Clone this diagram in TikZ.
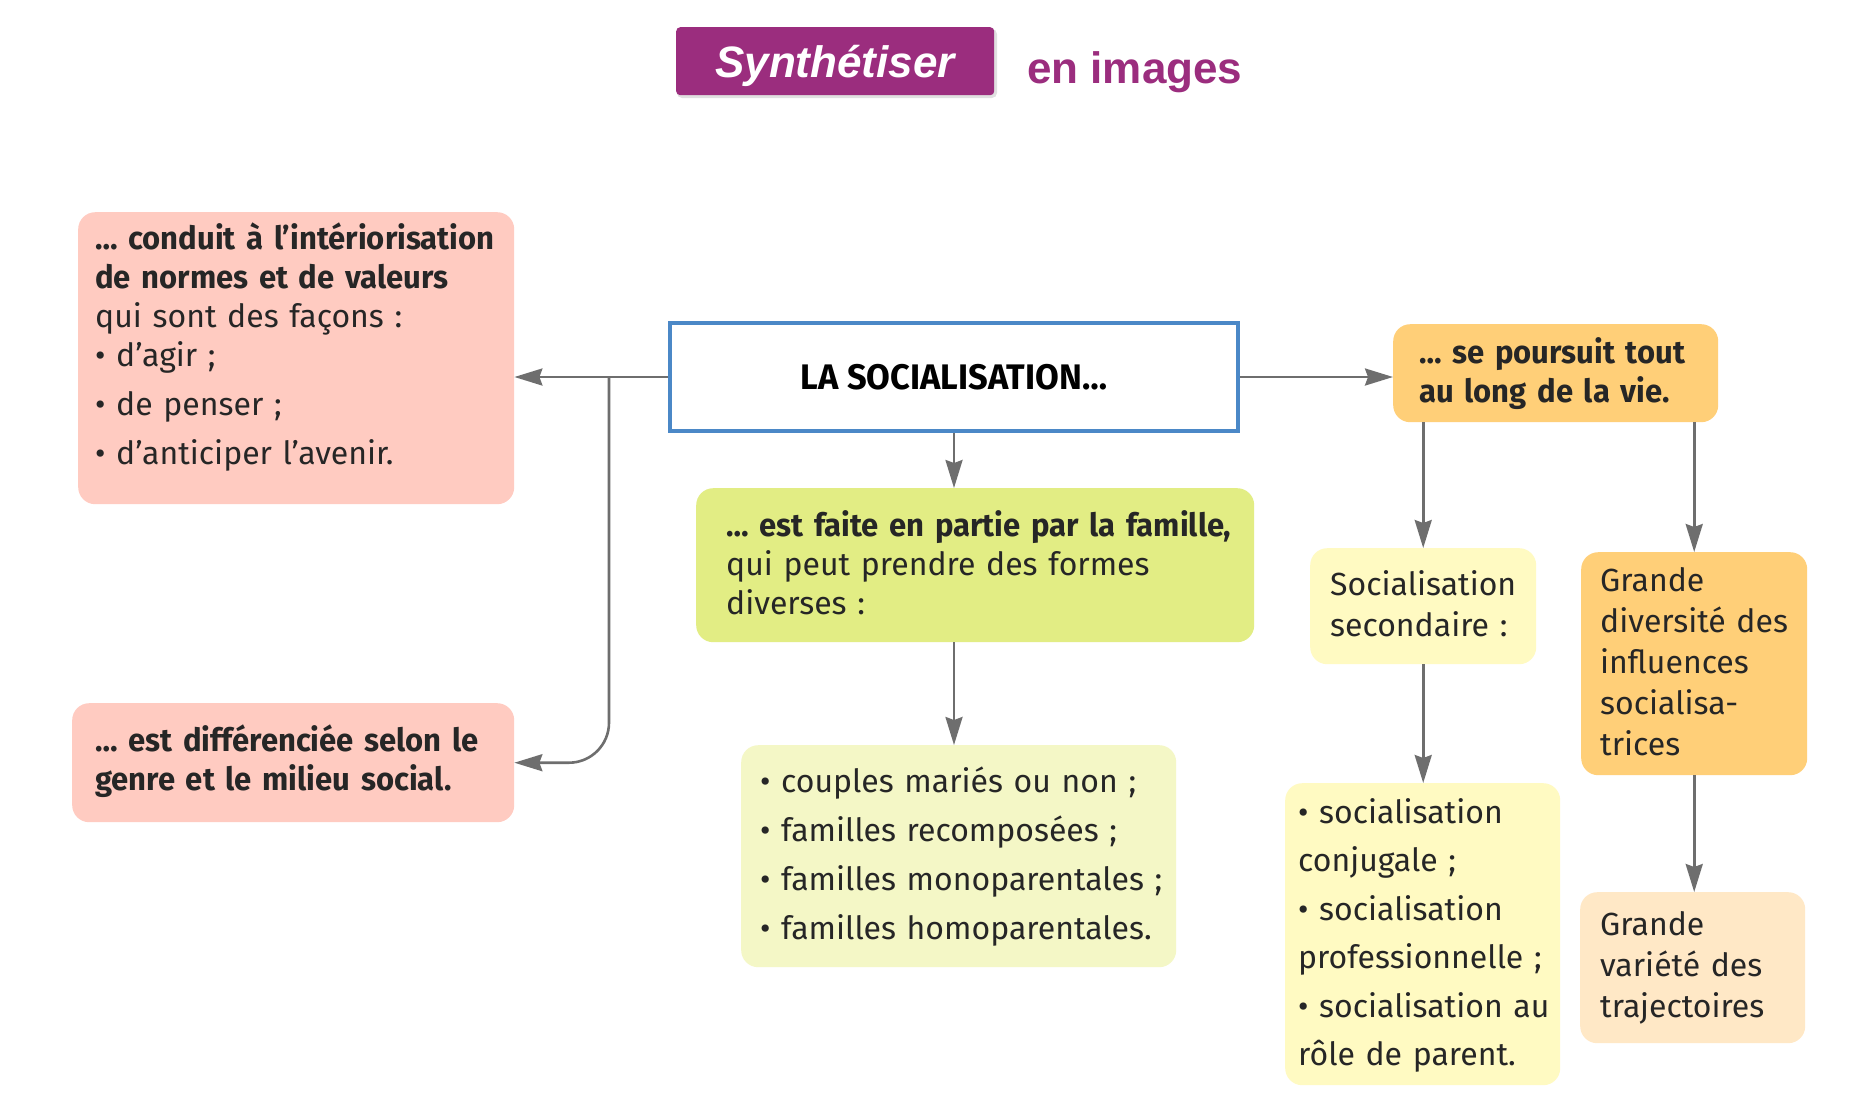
\documentclass[tikz,border=0pt]{standalone}
\usepackage{fontspec}
\setmainfont{Fira Sans}[BoldFeatures={FakeStretch=0.97}]
\newfontfamily\titlefont{Liberation Sans}
\usetikzlibrary{arrows.meta}
\definecolor{pinkc}{HTML}{FFCBC1}
\definecolor{greenc}{HTML}{E2ED84}
\definecolor{lgreenc}{HTML}{F4F7C6}
\definecolor{orangec}{HTML}{FFCF78}
\definecolor{lyellowc}{HTML}{FFFAC2}
\definecolor{lorangec}{HTML}{FFE8C6}
\definecolor{purplec}{HTML}{9B2D7E}
\definecolor{bluec}{HTML}{4B88C7}
\definecolor{arrowc}{HTML}{6E6E6E}
\definecolor{textc}{HTML}{262626}
\begin{document}
\begin{tikzpicture}[x=1pt,y=-1pt,
  bx/.style={draw=none, rounded corners=17, inner sep=0, anchor=north west},
  txt/.style={anchor=base west, inner sep=0, align=left, text width=#1, text=textc,
    font=\fontsize{32}{39}\selectfont},
  arr/.style={draw=arrowc, line width=2.6, -{Stealth[length=28pt, width=17pt, inset=3pt]}}
]
\useasboundingbox[fill=white] (0,0) rectangle (1860,1104);

% title
\fill[black, opacity=0.12, rounded corners=5] (677,29) rectangle (997,98);
\node[fill=purplec, rounded corners=4, minimum width=318, minimum height=68, inner sep=0,
  anchor=north west] (tb) at (676,27) {};
\node[anchor=base, inner sep=0, text=white,
  font=\titlefont\bfseries\itshape\fontsize{44}{50}\selectfont] (tt) at (835,77) {Synthétiser};
\node[anchor=base west, inner sep=0, text=purplec,
  font=\titlefont\bfseries\fontsize{44}{50}\selectfont] (ti) at (1027,83) {en images};

% central box
\node[draw=bluec, line width=3.5, fill=white, minimum width=568, minimum height=108, inner sep=0,
  text=black, font=\bfseries\fontsize{35.5}{40}\selectfont] (cb) at (954,377) {LA SOCIALISATION…};

% left boxes
\node[bx, fill=pinkc, minimum width=436, minimum height=292] (b1) at (78,212) {};
\node[txt=600] (t1) at (95,249) {\textbf{… conduit à l’intériorisation}\\
\textbf{de normes et de valeurs}\\
qui sont des façons :\\
• d’agir ;\\[10pt]
• de penser ;\\[10pt]
• d’anticiper l’avenir.};

\node[bx, fill=pinkc, minimum width=442, minimum height=119] (b2) at (72,703) {};
\node[txt=600] (t2) at (95,751) {\textbf{… est différenciée selon le}\\
\textbf{genre et le milieu social.}};

% middle boxes
\node[bx, fill=greenc, minimum width=558, minimum height=154] (gb) at (696,488) {};
\node[txt=700] (t3) at (726,536) {\textbf{… est faite en partie par la famille,}\\
qui peut prendre des formes\\
diverses :};

\node[bx, fill=lgreenc, minimum width=435, minimum height=222] (lg) at (741,745) {};
\node[txt=600] (t4) at (760,792) {• couples mariés ou non ;\\[10pt]
• familles recomposées ;\\[10pt]
• familles monoparentales ;\\[10pt]
• familles homoparentales.};

% right boxes
\node[bx, fill=orangec, minimum width=325, minimum height=98] (ob) at (1393,324) {};
\node[txt=400] (t5) at (1419,363) {\textbf{… se poursuit tout}\\
\textbf{au long de la vie.}};

\node[bx, fill=lyellowc, minimum width=226, minimum height=116] (sb) at (1310,548) {};
\node[txt=400, font=\fontsize{32}{41}\selectfont] (t6) at (1330,595) {Socialisation\\
secondaire :};

\node[bx, fill=lyellowc, minimum width=275, minimum height=302] (pb) at (1285,783) {};
\node[txt=400, font=\fontsize{32}{48.5}\selectfont] (t7) at (1298,823) {• socialisation\\
conjugale ;\\
• socialisation\\
professionnelle ;\\
• socialisation au\\
rôle de parent.};

\node[bx, fill=orangec, minimum width=226, minimum height=223] (db) at (1581,552) {};
\node[txt=400, font=\fontsize{32}{41}\selectfont] (t8) at (1600,591) {Grande\\
diversité des\\
influences\\
socialisa-\\
trices};

\node[bx, fill=lorangec, minimum width=225, minimum height=151] (vb) at (1580,892) {};
\node[txt=400, font=\fontsize{32}{41}\selectfont] (t9) at (1600,935) {Grande\\
variété des\\
trajectoires};

% connectors
\coordinate (brx) at (609,0);
\draw[arr] (cb.west) -- (cb.west -| b1.east);
\draw[arr, rounded corners=40] (cb.west -| brx) -- (brx |- b2.east) -- (b2.east);
\draw[arr] (cb.east) -- (cb.east -| ob.west);
\draw[arr] (cb.south) -- (cb.south |- gb.north);
\draw[arr] (cb.south |- gb.south) -- (cb.south |- lg.north);
\draw[arr] (sb.north |- ob.south) -- (sb.north);
\draw[arr] (db.north |- ob.south) -- (db.north);
\draw[arr] (sb.south) -- (sb.south |- pb.north);
\draw[arr] (db.south) -- (db.south |- vb.north);
\end{tikzpicture}
\end{document}
